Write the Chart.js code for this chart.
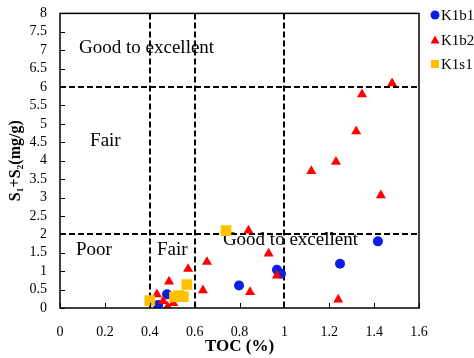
<!DOCTYPE html>
<html>
<head>
<meta charset="utf-8">
<script src="https://cdn.jsdelivr.net/npm/chart.js@4/dist/chart.umd.min.js"></script>
<style>
html,body{margin:0;padding:0;background:#fff;}
#wrap{width:474px;height:358px;}
</style>
</head>
<body>
<div id="wrap"><canvas id="c" width="474" height="358"></canvas></div>
<script>
// ---- data ----
const seriesNames = ["K1b1", "K1b2", "K1s1"];
const k1b1X = [1.417, 1.248, 0.967, 0.985, 0.798, 0.477, 0.437];
const k1b1Y = [1.81, 1.20, 1.04, 0.93, 0.61, 0.37, 0.08];
const k1b2X = [1.48, 1.346, 1.32, 1.23, 1.43, 1.24, 1.12, 0.84, 0.93, 0.967, 0.847, 0.655, 0.571, 0.637, 0.486, 0.432, 0.46, 0.48, 0.505];
const k1b2Y = [6.10, 5.80, 4.80, 3.97, 3.06, 0.23, 3.72, 2.10, 1.48, 0.88, 0.43, 1.25, 1.06, 0.48, 0.72, 0.37, 0.19, 0.03, 0.13];
const k1s1X = [0.74, 0.565, 0.51, 0.53, 0.55, 0.40];
const k1s1Y = [2.10, 0.64, 0.30, 0.34, 0.31, 0.20];
const xTicks = [0, 0.2, 0.4, 0.6, 0.8, 1, 1.2, 1.4, 1.6];
const yTicks = [0, 0.5, 1, 1.5, 2, 2.5, 3, 3.5, 4, 4.5, 5, 5.5, 6, 6.5, 7, 7.5, 8];
const tocThresholds = [0.4, 0.6, 1.0];
const s1s2Thresholds = [2, 6];
const zoneLabels = ["Good to excellent", "Fair", "Poor", "Fair", "Good to excellent"];
const zoneLabelX = [0.085, 0.134, 0.071, 0.432, 0.726];
const zoneLabelY = [7.07, 4.53, 1.57, 1.57, 1.84];

const SERIF = "'Liberation Serif','Times New Roman',serif";
const colors = ["#0a1ee6", "#ff0000", "#ffc000"];
const styles = ["circle", "triangle", "rect"];
const radii = [5, 5.8, 7.5];

function pts(xs, ys) { return xs.map((x, i) => ({x: x, y: ys[i]})); }
const allX = [k1b1X, k1b2X, k1s1X], allY = [k1b1Y, k1b2Y, k1s1Y];

const datasets = seriesNames.map((n, i) => ({
  label: n,
  data: pts(allX[i], allY[i]),
  pointStyle: styles[i],
  pointRadius: radii[i],
  pointHoverRadius: radii[i],
  backgroundColor: colors[i],
  borderColor: colors[i],
  borderWidth: 0,
  order: 3 - i
}));

function fmt(v) { return String(Math.round(v * 10) / 10); }

const overlay = {
  id: 'overlay',
  beforeDatasetsDraw(chart) {
    const ctx = chart.ctx, a = chart.chartArea;
    const xs = chart.scales.x, ys = chart.scales.y;
    ctx.save();
    ctx.strokeStyle = '#000';
    ctx.lineWidth = 2;
    ctx.setLineDash([6, 3]);
    tocThresholds.forEach(v => {
      const px = Math.round(xs.getPixelForValue(v));
      ctx.beginPath(); ctx.moveTo(px, a.top); ctx.lineTo(px, a.bottom); ctx.stroke();
    });
    s1s2Thresholds.forEach(v => {
      const py = Math.round(ys.getPixelForValue(v));
      ctx.beginPath(); ctx.moveTo(a.left, py); ctx.lineTo(a.right, py); ctx.stroke();
    });
    ctx.setLineDash([]);
    ctx.fillStyle = '#000';
    ctx.font = "19px " + SERIF;
    ctx.textAlign = 'left';
    ctx.textBaseline = 'middle';
    zoneLabels.forEach((t, i) => {
      ctx.fillText(t, xs.getPixelForValue(zoneLabelX[i]), ys.getPixelForValue(zoneLabelY[i]));
    });
    ctx.restore();
  },
  afterDraw(chart) {
    const ctx = chart.ctx, a = chart.chartArea;
    const xs = chart.scales.x, ys = chart.scales.y;
    ctx.save();
    ctx.strokeStyle = '#000';
    ctx.lineWidth = 1.5;
    ctx.strokeRect(a.left, a.top, a.right - a.left, a.bottom - a.top);
    ctx.lineWidth = 1;
    xTicks.forEach(v => {
      const px = Math.round(xs.getPixelForValue(v)) + 0.5;
      ctx.beginPath(); ctx.moveTo(px, a.bottom); ctx.lineTo(px, a.bottom - 5); ctx.stroke();
    });
    yTicks.forEach(v => {
      const py = Math.round(ys.getPixelForValue(v)) + 0.5;
      ctx.beginPath(); ctx.moveTo(a.left, py); ctx.lineTo(a.left + 5, py); ctx.stroke();
    });
    const lx = 435, ly = [15, 40, 64];
    ctx.font = "15px " + SERIF;
    ctx.textBaseline = 'middle';
    ctx.textAlign = 'left';
    seriesNames.forEach((n, i) => {
      const y = ly[i];
      ctx.fillStyle = colors[i];
      ctx.beginPath();
      if (i === 0) { ctx.arc(lx, y, 4.5, 0, Math.PI * 2); }
      else if (i === 1) { ctx.moveTo(lx, y - 4.5); ctx.lineTo(lx + 4.5, y + 3.5); ctx.lineTo(lx - 4.5, y + 3.5); ctx.closePath(); }
      else { ctx.rect(lx - 4, y - 4, 8, 8); }
      ctx.fill();
      ctx.fillStyle = '#000';
      ctx.fillText(n, lx + 6, y + 1);
    });
    ctx.restore();
  }
};

new Chart(document.getElementById('c'), {
  type: 'scatter',
  data: { datasets: datasets },
  options: {
    responsive: false,
    animation: false,
    layout: { padding: { top: 8, right: 55, left: 0, bottom: 0 } },
    plugins: { legend: { display: false }, tooltip: { enabled: false } },
    scales: {
      x: {
        type: 'linear', min: 0, max: 1.6,
        afterBuildTicks(s) { s.ticks = xTicks.map(v => ({value: v})); },
        afterFit(s) { s.height = 50; },
        grid: { display: false },
        border: { display: false },
        ticks: { color: '#000', padding: 8, autoSkip: false, maxRotation: 0, font: { family: SERIF, size: 14 }, callback: v => fmt(v) },
        title: { display: true, text: 'TOC (%)', color: '#000', padding: { top: 4, bottom: 1 }, font: { family: SERIF, size: 17, weight: 'bold' } }
      },
      y: {
        type: 'linear', min: 0, max: 8,
        afterBuildTicks(s) { s.ticks = yTicks.map(v => ({value: v})); },
        afterFit(s) { s.width = 60; },
        grid: { display: false },
        border: { display: false },
        ticks: { color: '#000', padding: 5, autoSkip: false, font: { family: SERIF, size: 14 }, callback: v => fmt(v) },
        title: { display: true, text: 'S\u2081+S\u2082(mg/g)', color: '#000', padding: { top: 6, bottom: 0 }, font: { family: SERIF, size: 16, weight: 'bold' } }
      }
    }
  },
  plugins: [overlay]
});
</script>
</body>
</html>
